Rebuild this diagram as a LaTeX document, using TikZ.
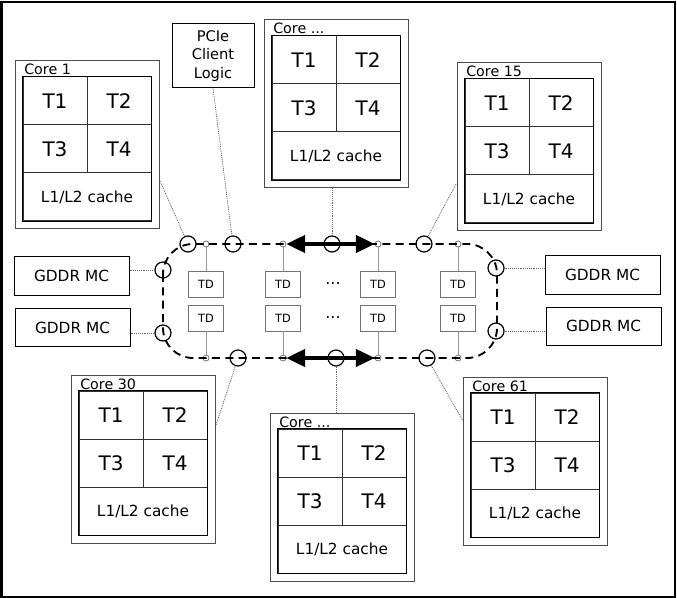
\documentclass[tikz,border=0pt]{standalone}
\usepackage{fontspec}
\setmainfont{DejaVu Sans}
\usetikzlibrary{arrows.meta,calc}
\tikzset{
  cell/.style={draw=black!80, line width=0.75pt, minimum width=48pt, minimum height=36pt, inner sep=0pt, font=\fontsize{15}{18}\selectfont},
  cachecell/.style={cell, minimum width=96pt, font=\fontsize{11.5}{14}\selectfont},
  coreframe/.style={draw=black!70, line width=0.75pt, minimum width=108pt, minimum height=126pt, inner sep=0pt},
  corelabel/.style={anchor=base west, inner sep=0pt, font=\fontsize{10.7}{12}\selectfont},
  innerframe/.style={draw=black, line width=1pt},
  mcbox/.style={draw=black, line width=0.75pt, minimum width=86.25pt, minimum height=28.5pt, inner sep=0pt, font=\fontsize{11.5}{14}\selectfont},
  pciebox/.style={draw=black, line width=0.75pt, minimum width=61.5pt, minimum height=48pt, inner sep=0pt, align=center, font=\fontsize{11}{14}\selectfont},
  tdbox/.style={draw=black!55, line width=0.7pt, minimum width=26.25pt, minimum height=19.5pt, inner sep=0pt, font=\fontsize{8.5}{10}\selectfont},
  bigc/.style={circle, draw=black, line width=0.9pt, minimum size=12pt, inner sep=0pt},
  smallc/.style={circle, draw=black!55, line width=0.6pt, minimum size=4.5pt, inner sep=0pt},
  ring/.style={draw=black, line width=1.4pt, dash pattern=on 6pt off 4pt, rounded corners=22.5pt},
  conn/.style={draw=black!60, line width=0.6pt, dash pattern=on 0.7pt off 0.7pt},
  tdlink/.style={draw=black!40, line width=0.7pt},
  bigarrow/.style={draw=black, line width=2.4pt, {Triangle[length=14pt,width=13pt]}-{Triangle[length=14pt,width=13pt]}},
  dotsnode/.style={inner sep=0pt, font=\fontsize{12}{14}\selectfont},
  frame/.style={draw=black, line width=1.5pt}
}
\newcommand\mycore[4]{%
  \node[coreframe] (#1o) at (#2+64,#3+68) {};
  \node[cell] (#1a) at (#2+32,#3+24) {T1};
  \node[cell] (#1b) at (#2+96,#3+24) {T2};
  \node[cell] (#1c) at (#2+32,#3+72) {T3};
  \node[cell] (#1d) at (#2+96,#3+72) {T4};
  \node[cachecell] (#1e) at (#2+64,#3+120) {L1/L2 cache};
  \draw[innerframe] (#1a.north west) rectangle (#1e.south east);
  \node[corelabel] (#1l) at (#2+1,#3-2) {#4};
}
\begin{document}
\begin{tikzpicture}[x=0.75pt,y=-0.75pt]
\useasboundingbox (0,0) rectangle (677,598);
\draw[frame] (1.5,2) rectangle (674.5,596.5);

% cores
\mycore{ca}{23}{77}{Core 1}
\mycore{cb}{272}{36}{Core ...}
\mycore{cc}{465}{79}{Core 15}
\mycore{cd}{79}{391}{Core 30}
\mycore{ce}{471}{393}{Core 61}
\mycore{cf}{278}{429}{Core ...}

% PCIe and memory controllers
\node[pciebox] (pcie) at (213,56) {PCIe\\Client\\Logic};
\node[mcbox] (g1) at (71.5,276) {GDDR MC};
\node[mcbox] (g2) at (72.5,327.5) {GDDR MC};
\node[mcbox] (g3) at (602.5,275) {GDDR MC};
\node[mcbox] (g4) at (603.5,326) {GDDR MC};

% ring stops (big)
\node[bigc] (k1) at (188,244) {};
\node[bigc] (k2) at (233,244) {};
\node[bigc] (k3) at (332,244) {};
\node[bigc] (k4) at (424,244) {};
\node[bigc] (k5) at (163,270) {};
\node[bigc] (k6) at (163,333) {};
\node[bigc] (k7) at (496,268) {};
\node[bigc] (k8) at (496,331) {};
\node[bigc] (k9) at (238,358) {};
\node[bigc] (k10) at (336,358) {};
\node[bigc] (k11) at (427,358) {};

% small stops
\foreach \i/\xx in {1/206,2/283,3/378,4/458}{
  \node[smallc] (st\i) at (\xx,244) {};
  \node[smallc] (sb\i) at (\xx,358) {};
  \node[tdbox] (ta\i) at (\xx,284) {TD};
  \node[tdbox] (tb\i) at (\xx,318) {TD};
  \draw[tdlink] (st\i) -- (ta\i);
  \draw[tdlink] (tb\i) -- (sb\i);
}
\node[dotsnode] (d1) at (333,284) {...};
\node[dotsnode] (d2) at (333,318) {...};

% ring
\draw[ring] (163,244) rectangle (497,358);

% bidirectional arrows
\draw[bigarrow] (st2) -- (st3);
\draw[bigarrow] (sb2) -- (sb3);

% connectors
\coordinate (p1) at (160,181);
\draw[conn] (p1) -- (k1);
\draw[conn] (pcie.south) -- (k2);
\draw[conn] (cbo.south -| k3) -- (k3);
\coordinate (p4) at (456,184);
\draw[conn] (p4) -- (k4);
\draw[conn] (g1.east |- k5) -- (k5);
\draw[conn] (g2.east |- k6) -- (k6);
\draw[conn] (k7) -- (g3.west |- k7);
\draw[conn] (k8) -- (g4.west |- k8);
\coordinate (p9) at (216,425);
\draw[conn] (p9) -- (k9);
\draw[conn] (cfo.north -| k10) -- (k10);
\coordinate (p11) at (463,421);
\draw[conn] (k11) -- (p11);
\end{tikzpicture}
\end{document}
